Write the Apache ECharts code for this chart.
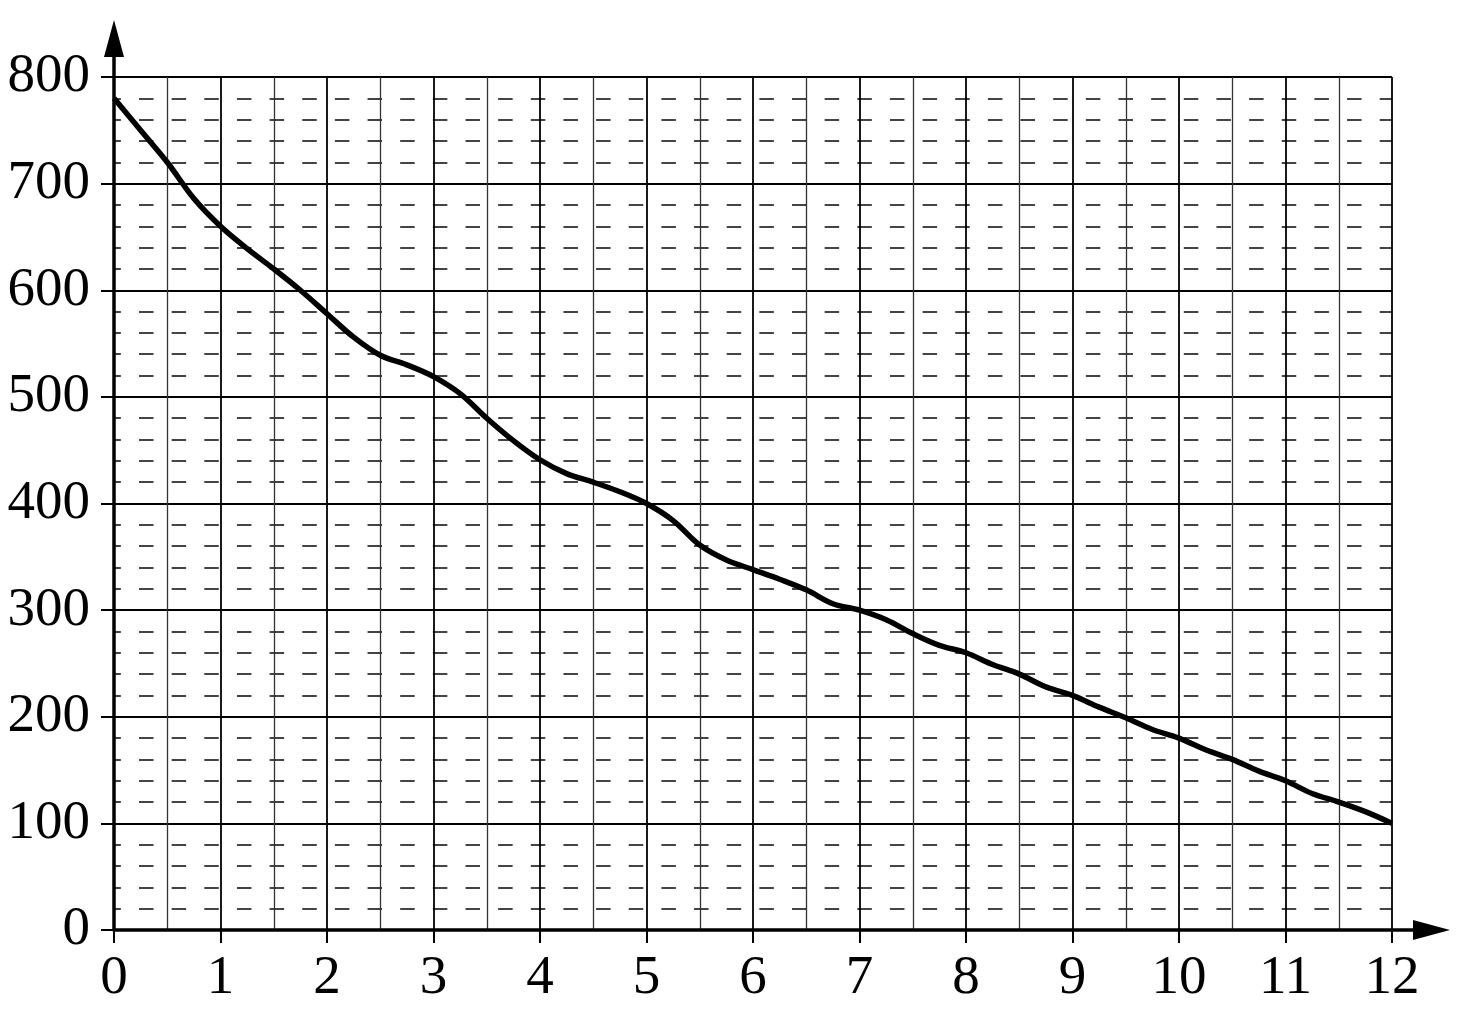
<!DOCTYPE html>
<html>
<head>
<meta charset="utf-8">
<script src="https://cdn.jsdelivr.net/npm/echarts@6/dist/echarts.min.js"></script>
<style>
html,body{margin:0;padding:0;background:#fff;}
#chart{width:1474px;height:1014px;}
</style>
</head>
<body>
<div id="chart"></div>
<script>
var xValues = [0, 0.25, 0.5, 0.75, 1, 1.25, 1.5, 1.75, 2, 2.25, 2.5, 2.75, 3, 3.25, 3.5, 3.75, 4, 4.25, 4.5, 4.75, 5, 5.25, 5.5, 5.75, 6, 6.25, 6.5, 6.75, 7, 7.25, 7.5, 7.75, 8, 8.25, 8.5, 8.75, 9, 9.25, 9.5, 9.75, 10, 10.25, 10.5, 10.75, 11, 11.25, 11.5, 11.75, 12];
var yValues = [780, 750, 720, 686, 660, 639, 620, 600, 578, 556, 539, 530, 519, 503, 480, 459, 441, 428, 420, 411, 400, 384, 361, 347, 338, 329, 319, 306, 300, 291, 278, 267, 260, 249, 240, 228, 220, 209, 199, 188, 180, 169, 160, 149, 140, 128, 120, 111, 100];
var xTickLabels = ['0','1','2','3','4','5','6','7','8','9','10','11','12'];
var yTickLabels = ['0','100','200','300','400','500','600','700','800'];

var seriesData = xValues.map(function (x, i) { return [x, yValues[i]]; });
var FONT = '"Liberation Serif", "Times New Roman", serif';

var chart = echarts.init(document.getElementById('chart'), null, {renderer: 'canvas'});
chart.setOption({
  backgroundColor: '#ffffff',
  animation: false,
  grid: [
    {left: 114, right: 82, top: 77, bottom: 84},
    {left: 114, right: 42.5, top: 38.5, bottom: 84}
  ],
  xAxis: [
    {
      type: 'value', gridIndex: 0, min: 0, max: 12, interval: 1,
      axisLine: {show: false},
      axisTick: {show: true, length: 13, lineStyle: {color: '#000', width: 2}},
      axisLabel: {
        show: true, margin: 21, color: '#000', fontFamily: FONT, fontSize: 55,
        formatter: function (v) { var i = Math.round(v); return xTickLabels[i] !== undefined ? xTickLabels[i] : ''; }
      },
      splitLine: {show: true, lineStyle: {color: '#000', width: 1.8}},
      minorTick: {show: false, splitNumber: 2},
      minorSplitLine: {show: true, lineStyle: {color: '#333', width: 1.3}}
    },
    {
      type: 'value', gridIndex: 1, min: 0, max: 1,
      axisLine: {show: true, onZero: false, symbol: ['none', 'triangle'], symbolSize: [20, 37], lineStyle: {color: '#000', width: 3.5}},
      axisTick: {show: false}, axisLabel: {show: false}, splitLine: {show: false}
    }
  ],
  yAxis: [
    {
      type: 'value', gridIndex: 0, min: 0, max: 800, interval: 100,
      axisLine: {show: false},
      axisTick: {show: true, length: 13, lineStyle: {color: '#000', width: 2}},
      axisLabel: {
        show: true, margin: 24, color: '#000', fontFamily: FONT, fontSize: 55,
        formatter: function (v) { var i = Math.round(v / 100); return yTickLabels[i] !== undefined ? yTickLabels[i] : ''; }
      },
      splitLine: {show: true, lineStyle: {color: '#000', width: 1.8}},
      minorTick: {show: false, splitNumber: 5},
      minorSplitLine: {show: true, lineStyle: {color: '#444', width: 1.8, type: [14.5, 18.15], dashOffset: 7.65}}
    },
    {
      type: 'value', gridIndex: 1, min: 0, max: 1,
      axisLine: {show: true, onZero: false, symbol: ['none', 'triangle'], symbolSize: [20, 37], lineStyle: {color: '#000', width: 3.5}},
      axisTick: {show: false}, axisLabel: {show: false}, splitLine: {show: false}
    }
  ],
  series: [
    {
      type: 'line', xAxisIndex: 0, yAxisIndex: 0,
      data: seriesData,
      smooth: 0.35,
      showSymbol: false,
      lineStyle: {color: '#000', width: 5.5},
      z: 10
    }
  ]
});
</script>
</body>
</html>
